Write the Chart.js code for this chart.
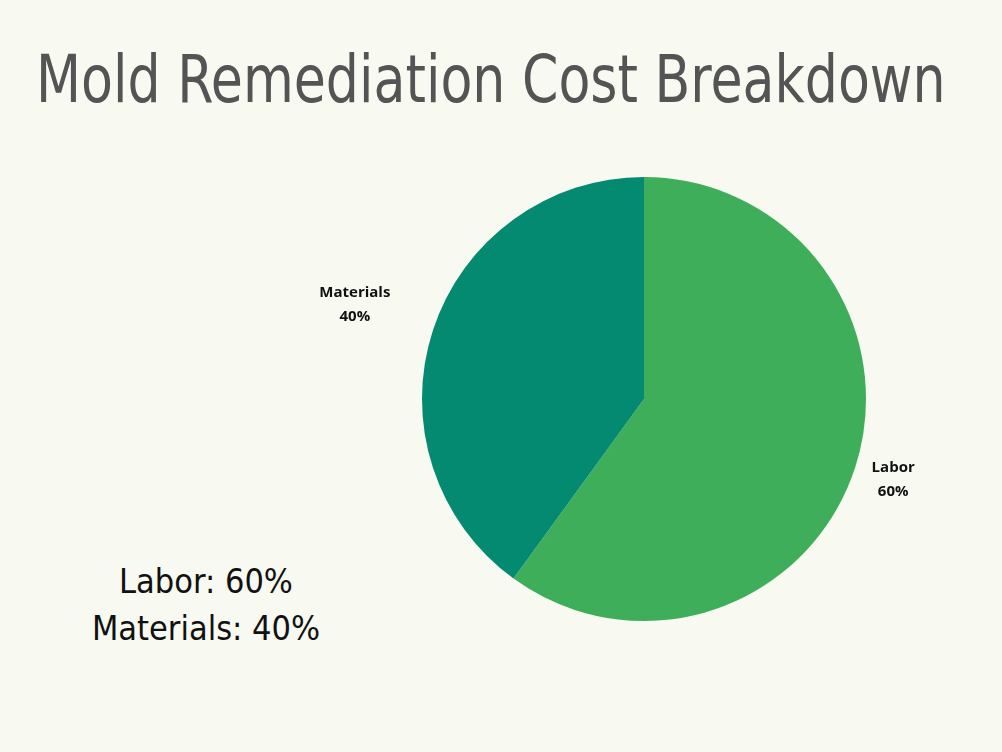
<!DOCTYPE html>
<html><head><meta charset="utf-8">
<script src="https://cdn.jsdelivr.net/npm/chart.js@4/dist/chart.umd.min.js"></script>
<style>
html,body{margin:0;padding:0;background:#f8f9f1;width:1002px;height:752px;overflow:hidden;}
#title{position:absolute;left:36px;top:42px;font-family:"Liberation Sans Narrow","DejaVu Sans Condensed",sans-serif;font-size:58px;color:#545454;transform:scaleY(1.12);transform-origin:top left;white-space:nowrap;}
#summary{position:absolute;left:56px;width:300px;top:558px;text-align:center;font-family:"Liberation Sans Narrow","DejaVu Sans Condensed",sans-serif;font-size:34px;line-height:47px;color:#111;}
#wrap{position:absolute;left:300px;top:150px;width:688px;height:498px;}
</style></head><body>
<div id="title">Mold Remediation Cost Breakdown</div>
<div id="summary"></div>
<div id="wrap"><canvas id="c"></canvas></div>
<script>
const categories = ["Labor", "Materials"];
const values = [60, 40];
const colors = ["#3fae5a", "#038a70"];
document.getElementById('summary').innerHTML = categories.map((c,i)=>c+': '+values[i]+'%').join('<br>');
const labelOffsets = [40, 82];
const outLabels = {
  id:'outLabels',
  afterDatasetsDraw(chart){
    const ctx = chart.ctx;
    chart.getDatasetMeta(0).data.forEach((arc,i)=>{
      const p = arc.getProps(['x','y','startAngle','endAngle','outerRadius'],true);
      const a = (p.startAngle+p.endAngle)/2;
      const r = p.outerRadius + labelOffsets[i];
      const x = p.x + Math.cos(a)*r, y = p.y + Math.sin(a)*r;
      ctx.save();
      ctx.fillStyle='#111';ctx.font='bold 15px "Open Sans", sans-serif';
      ctx.textAlign='center';ctx.textBaseline='middle';
      ctx.fillText(categories[i], x, y-12);
      ctx.fillText(values[i]+'%', x, y+12);
      ctx.restore();
    });
  }
};
new Chart(document.getElementById('c'), {
  type:'pie',
  data:{labels:categories,datasets:[{data:values,backgroundColor:colors,borderWidth:0}]},
  options:{responsive:true,maintainAspectRatio:false,animation:false,
    layout:{padding:{top:27,bottom:27,left:122,right:122}},
    plugins:{legend:{display:false},tooltip:{enabled:false}}},
  plugins:[outLabels]
});
</script>
</body></html>
